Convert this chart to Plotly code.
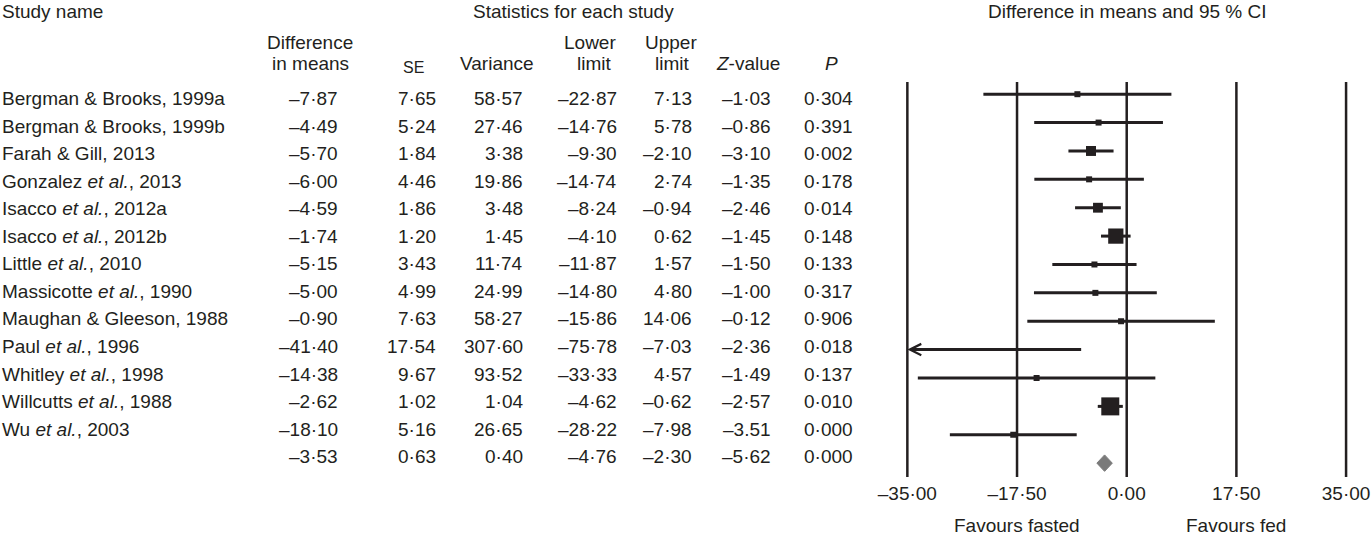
import numpy as np
import plotly.graph_objects as go

# ---------------- data ----------------
study_names = [
    "Bergman & Brooks, 1999a",
    "Bergman & Brooks, 1999b",
    "Farah & Gill, 2013",
    "Gonzalez <i>et al.</i>, 2013",
    "Isacco <i>et al.</i>, 2012a",
    "Isacco <i>et al.</i>, 2012b",
    "Little <i>et al.</i>, 2010",
    "Massicotte <i>et al.</i>, 1990",
    "Maughan & Gleeson, 1988",
    "Paul <i>et al.</i>, 1996",
    "Whitley <i>et al.</i>, 1998",
    "Willcutts <i>et al.</i>, 1988",
    "Wu <i>et al.</i>, 2003",
    "",
]
diff_means = [-7.87, -4.49, -5.70, -6.00, -4.59, -1.74, -5.15, -5.00, -0.90, -41.40, -14.38, -2.62, -18.10, -3.53]
std_err = [7.65, 5.24, 1.84, 4.46, 1.86, 1.20, 3.43, 4.99, 7.63, 17.54, 9.67, 1.02, 5.16, 0.63]
variance = [58.57, 27.46, 3.38, 19.86, 3.48, 1.45, 11.74, 24.99, 58.27, 307.60, 93.52, 1.04, 26.65, 0.40]
lower_limit = [-22.87, -14.76, -9.30, -14.74, -8.24, -4.10, -11.87, -14.80, -15.86, -75.78, -33.33, -4.62, -28.22, -4.76]
upper_limit = [7.13, 5.78, -2.10, 2.74, -0.94, 0.62, 1.57, 4.80, 14.06, -7.03, 4.57, -0.62, -7.98, -2.30]
z_labels = ["–1·03", "–0·86", "–3·10", "–1·35", "–2·46", "–1·45", "–1·50", "–1·00", "–0·12", "–2·36",
            "–1·49", "–2·57", "–3.51", "–5·62"]
p_values = [0.304, 0.391, 0.002, 0.178, 0.014, 0.148, 0.133, 0.317, 0.906, 0.018, 0.137, 0.010, 0.000, 0.000]
x_ticks = [-35.0, -17.5, 0.0, 17.5, 35.0]
x_tick_labels = ["–35·00", "–17·50", "0·00", "17·50", "35·00"]

# ---------------- layout constants ----------------
W, H = 1371, 538
FONT = "Liberation Sans, Arial, Helvetica, sans-serif"
TXT = "#231f20"
FS = 19

def fx(px):
    return px / W

def fy(py):
    return 1 - py / H

def fmt(v, d=2):
    s = f"{abs(v):.{d}f}".replace(".", "·")
    return ("–" + s) if v < 0 else s

n_studies = len(study_names) - 1
n_rows = len(study_names)

# plot geometry (pixels)
x0_px, unit_px = 1126.0, 6.2857
row0_px, row_px = 94.2, 28.38
plot_bottom_px = 477
xr = [(880 - x0_px) / unit_px, (W - x0_px) / unit_px]
yr = [(plot_bottom_px - row0_px) / row_px, (0 - row0_px) / row_px]
xmin_tick = min(x_ticks)

fig = go.Figure()

# CI lines for individual studies (clipped ones handled by arrows)
lx, ly = [], []
arrows = []
for i in range(n_studies):
    lo, hi = lower_limit[i], upper_limit[i]
    if lo < xmin_tick:
        arrows.append((i, hi))
        continue
    lx += [lo, hi, None]
    ly += [i, i, None]
fig.add_trace(go.Scatter(x=lx, y=ly, mode="lines", line=dict(color=TXT, width=3),
                         hoverinfo="skip", showlegend=False))

# point estimates sized by inverse-variance weight
w = 1 / np.array(variance[:n_studies])
sizes = np.maximum(6, 18 * np.sqrt(w / w.max()))
fig.add_trace(go.Scatter(x=diff_means[:n_studies], y=list(range(n_studies)), mode="markers",
                         marker=dict(symbol="square", size=sizes, color=TXT, opacity=1,
                                     line=dict(width=0)),
                         showlegend=False))

# summary diamond
s = n_rows - 1
dh = 0.29
fig.add_trace(go.Scatter(
    x=[lower_limit[s], diff_means[s], upper_limit[s], diff_means[s], lower_limit[s]],
    y=[s, s - dh, s, s + dh, s], mode="lines", fill="toself",
    fillcolor="#7a7a7a", line=dict(color="#7a7a7a", width=1), showlegend=False))

shapes = []
for t in x_ticks:
    shapes.append(dict(type="line", xref="x", yref="paper", x0=t, x1=t,
                       y0=fy(82), y1=fy(plot_bottom_px), line=dict(color=TXT, width=2.5), layer="below"))

ann = []
for i, hi in arrows:
    ann.append(dict(x=xmin_tick, y=i, ax=hi, ay=i, xref="x", yref="y", axref="x", ayref="y",
                    text="", showarrow=True, arrowhead=5, arrowsize=0.75, arrowwidth=3,
                    arrowcolor=TXT, standoff=0, startstandoff=0))

def txt(x, y, t, anchor="center", size=FS):
    ann.append(dict(x=fx(x), y=fy(y), xref="paper", yref="paper", text=t, showarrow=False,
                    xanchor=anchor, yanchor="middle", font=dict(family=FONT, size=size, color=TXT)))

NAME_X = -4
# headers
txt(NAME_X, 12, "Study name", "left")
txt(571, 12, "Statistics for each study")
txt(1126.5, 12, "Difference in means and 95 % CI")
txt(307, 43, "Difference")
txt(307.5, 64, "in means")
txt(411, 67, "SE", size=16)
txt(494, 64, "Variance")
txt(587.5, 43, "Lower")
txt(592, 64, "limit")
txt(669, 43, "Upper")
txt(669.5, 64, "limit")
txt(746.5, 64, "<i>Z</i>-value")
txt(830, 64, "<i>P</i>")

# table rows
trow0, trow = 98.5, 27.55
for i in range(n_rows):
    y = trow0 + trow * i
    if study_names[i]:
        txt(NAME_X, y, study_names[i], "left")
    txt(337, y, fmt(diff_means[i]), "right")
    txt(435, y, fmt(std_err[i]), "right")
    txt(523, y, fmt(variance[i]), "right")
    txt(617, y, fmt(lower_limit[i]), "right")
    txt(692, y, fmt(upper_limit[i]), "right")
    txt(771, y, z_labels[i], "right")
    txt(853, y, fmt(p_values[i], 3), "right")

# favours labels
for xv, t in [(-17.5, "Favours fasted"), (17.5, "Favours fed")]:
    ann.append(dict(x=xv, y=fy(525), xref="x", yref="paper", text=t, showarrow=False,
                    xanchor="center", yanchor="middle", font=dict(family=FONT, size=FS, color=TXT)))

fig.update_layout(
    width=W, height=H, margin=dict(l=0, r=0, t=0, b=0),
    paper_bgcolor="white", plot_bgcolor="white",
    font=dict(family=FONT, size=FS, color=TXT),
    xaxis=dict(domain=[fx(880), 1], range=xr, showgrid=False, zeroline=False, showline=False,
               tickvals=x_ticks, ticktext=x_tick_labels, ticks="", ticklabelstandoff=3,
               tickfont=dict(size=FS, color=TXT)),
    yaxis=dict(domain=[fy(plot_bottom_px), 1], range=yr, showgrid=False, zeroline=False,
               showline=False, showticklabels=False, ticks=""),
    shapes=shapes, annotations=ann, showlegend=False,
)
fig.write_html("out.html", config={"displayModeBar": False},
               post_script="document.body.style.margin='0';document.body.style.padding='0';document.body.style.overflow='hidden';")
